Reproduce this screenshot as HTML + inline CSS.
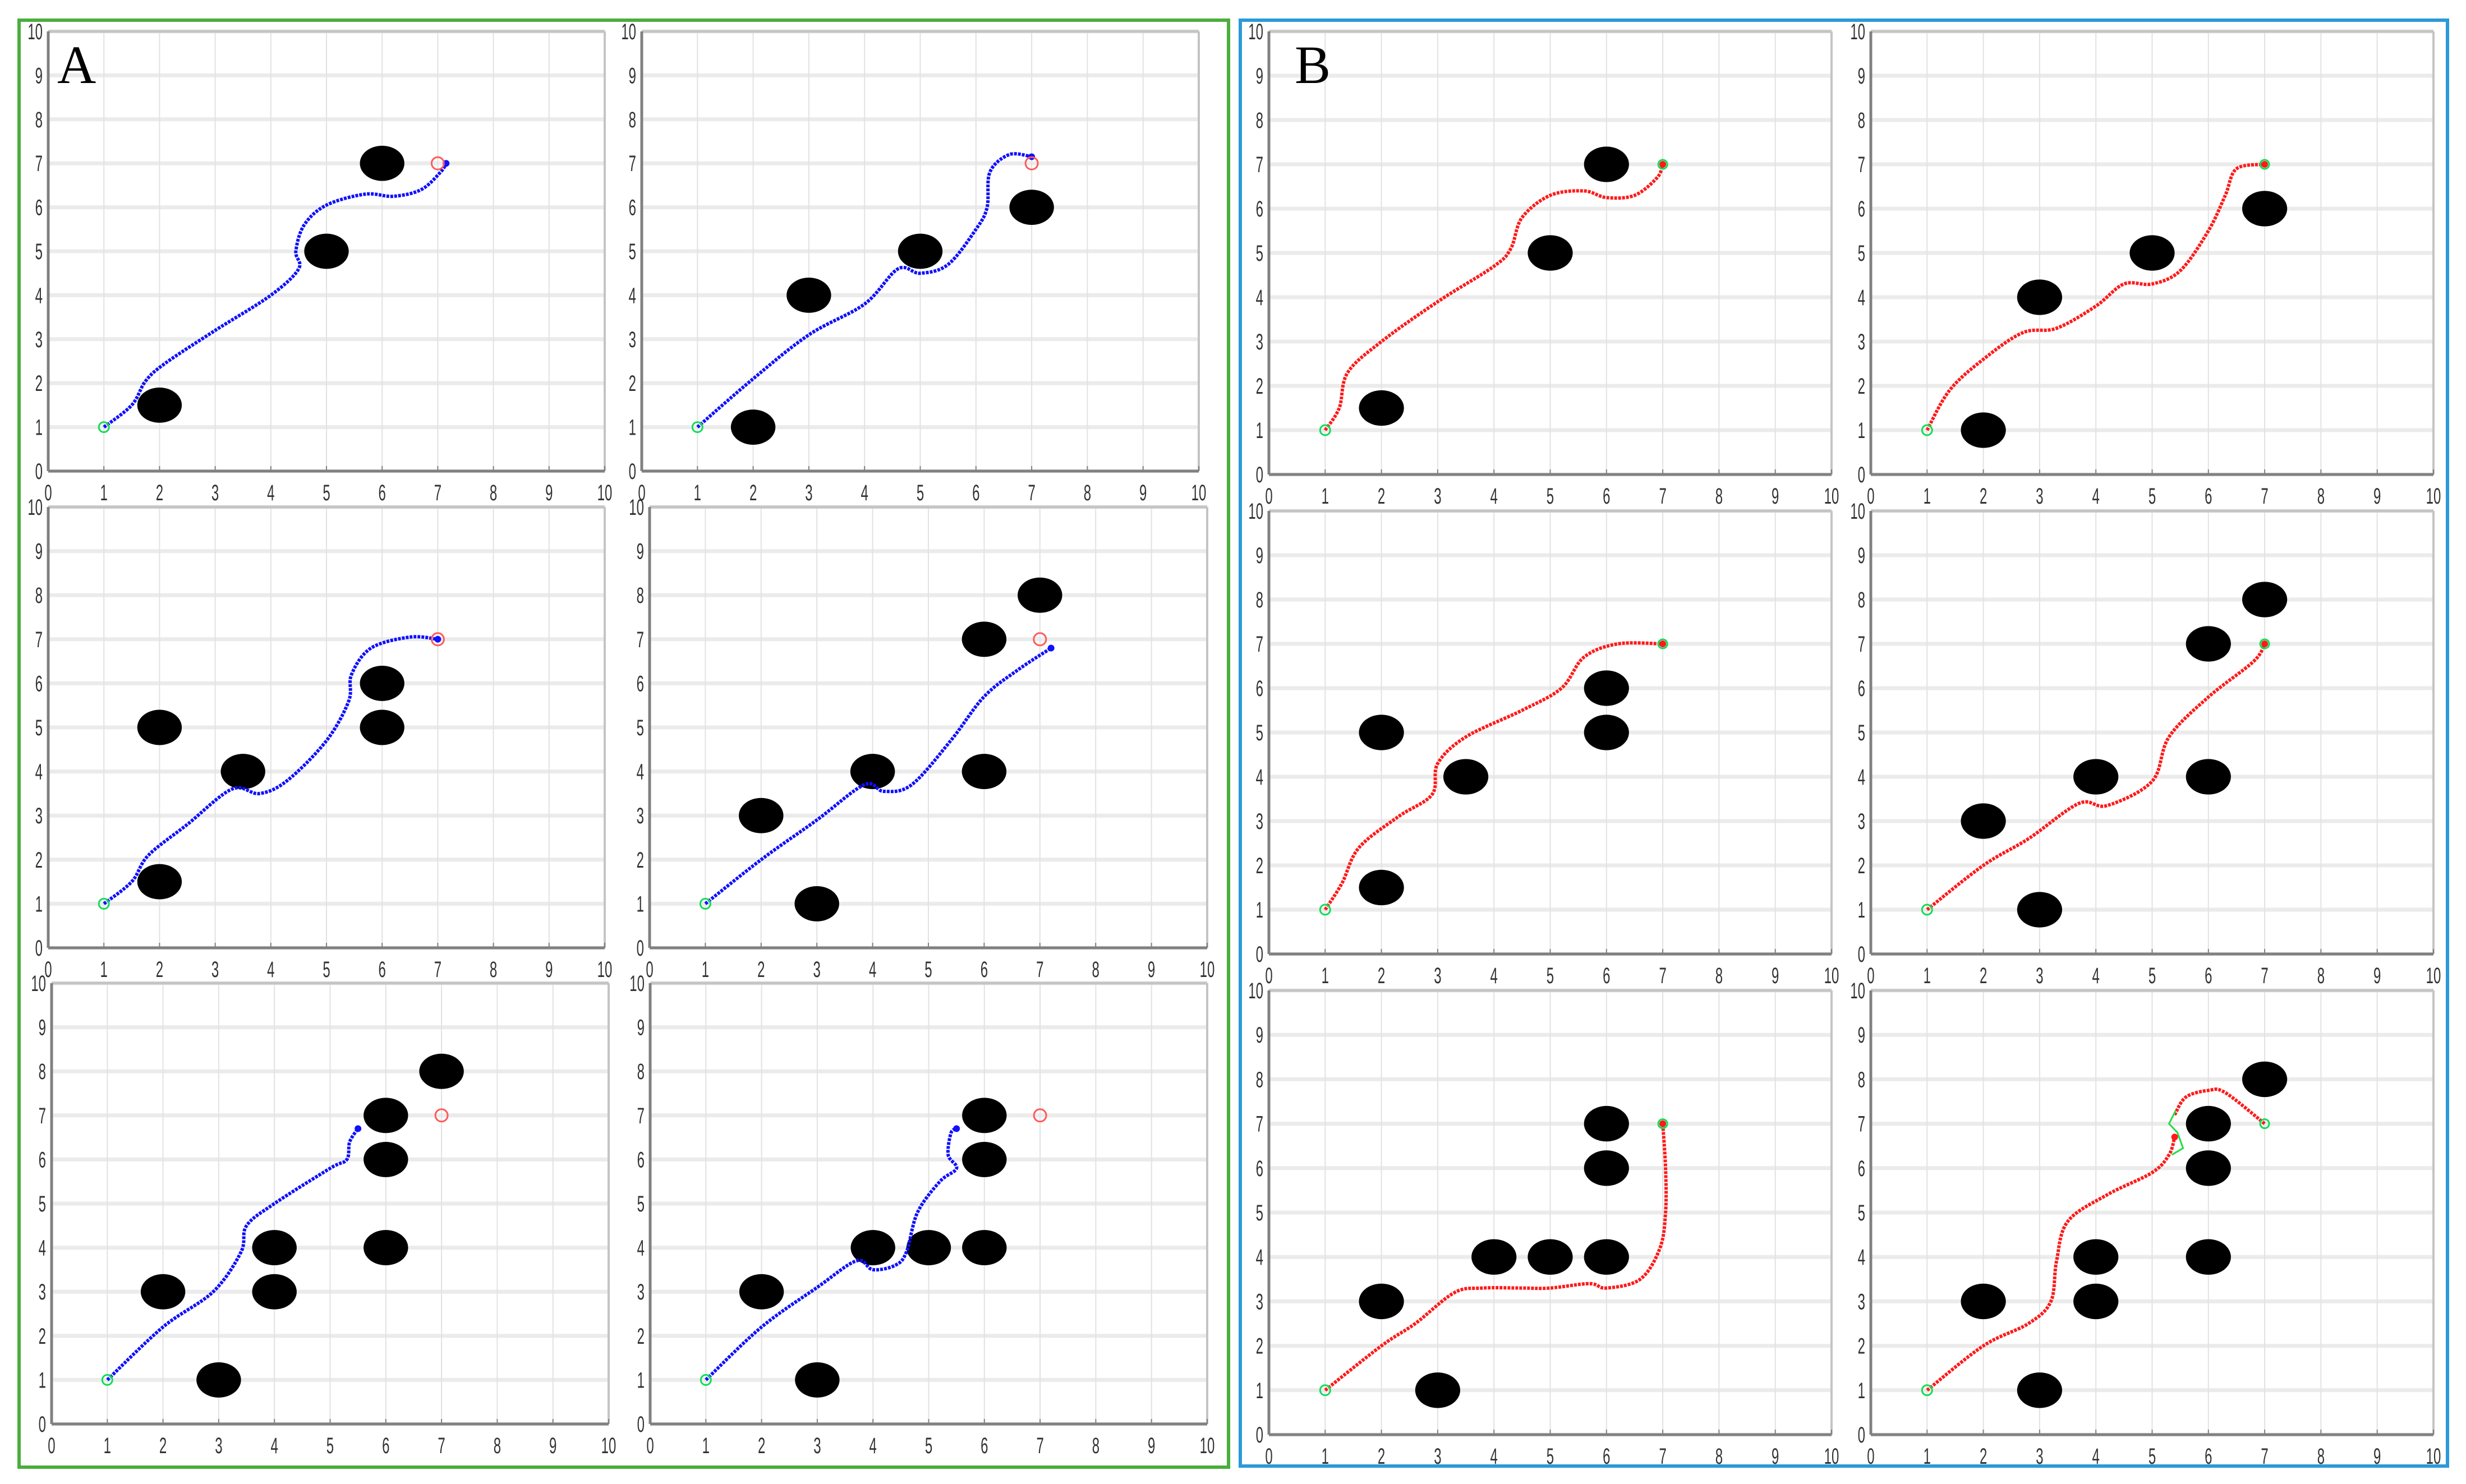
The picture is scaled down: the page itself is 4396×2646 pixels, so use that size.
<!DOCTYPE html>
<html><head><meta charset="utf-8"><style>
html,body{margin:0;padding:0;background:#fff}
svg{display:block}
text{font-family:"Liberation Sans",Arial,sans-serif}
</style></head><body>
<svg id="fig" width="4396" height="2646" viewBox="0 0 4396 2646" xmlns="http://www.w3.org/2000/svg">
<rect x="0" y="0" width="4396" height="2646" fill="#fff"/>
<rect x="34" y="36" width="2156" height="2580" fill="none" stroke="#4aae3c" stroke-width="6"/>
<rect x="2211" y="36" width="2152" height="2578" fill="none" stroke="#2a9ad8" stroke-width="6"/>
<g id="panels"></g>
<text x="102" y="148" font-size="96" fill="#000" style="font-family:'Liberation Serif',serif">A</text>
<text x="2308" y="148" font-size="96" fill="#000" style="font-family:'Liberation Serif',serif">B</text>
</svg>
<script>
// ---- data ----
const xTicks = [0,1,2,3,4,5,6,7,8,9,10];
const yTicks = [0,1,2,3,4,5,6,7,8,9,10];
const obsR = 0.4;

const a1ObsX=[2,5,6], a1ObsY=[1.5,5,7];
const a1PathX=[1,1.5,1.75,2.1,3,4,4.5,4.45,4.6,5.0,5.7,6.2,6.7,7.05,7.15];
const a1PathY=[1,1.5,2.05,2.45,3.2,4.0,4.6,5.0,5.6,6.05,6.3,6.25,6.4,6.8,7.0];

const a2ObsX=[2,3,5,7], a2ObsY=[1,4,5,6];
const a2PathX=[1,2,3,4,4.6,5.0,5.5,6.0,6.2,6.25,6.6,7.0];
const a2PathY=[1,2.1,3.1,3.8,4.6,4.5,4.7,5.5,6.0,6.8,7.2,7.15];

const a3ObsX=[2,2,3.5,6,6], a3ObsY=[1.5,5,4,6,5];
const a3PathX=[1,1.5,1.8,2.5,3.3,3.8,4.3,5.0,5.4,5.45,5.8,6.5,7.0];
const a3PathY=[1,1.5,2.1,2.8,3.6,3.5,3.8,4.7,5.6,6.2,6.8,7.05,7.0];

const a4ObsX=[2,3,4,6,6,7], a4ObsY=[3,1,4,4,7,8];
const a4PathX=[1,2,3,3.85,4.2,4.7,5.4,6.0,6.6,7.2];
const a4PathY=[1,2,2.9,3.7,3.55,3.7,4.7,5.7,6.3,6.8];

const a5ObsX=[2,3,4,4,6,6,6,7], a5ObsY=[3,1,4,3,4,6,7,8];
const a5PathX=[1,2,2.9,3.4,3.5,4.0,5.0,5.3,5.35,5.5];
const a5PathY=[1,2.2,3.0,3.9,4.5,5.0,5.8,6.0,6.4,6.7];

const a6ObsX=[2,3,4,5,6,6,6], a6ObsY=[3,1,4,4,4,6,7];
const a6PathX=[1,2,3,3.7,4.0,4.4,4.6,4.8,5.2,5.5,5.35,5.4,5.5];
const a6PathY=[1,2.2,3.1,3.7,3.5,3.6,3.9,4.8,5.5,5.8,6.1,6.6,6.7];

const b1ObsX=[2,5,6], b1ObsY=[1.5,5,7];
const b1PathX=[1,1.25,1.4,2,3,4,4.3,4.5,5.0,5.6,6.0,6.5,6.9,7.0];
const b1PathY=[1,1.5,2.3,3.0,3.9,4.7,5.1,5.8,6.3,6.4,6.25,6.3,6.7,7.0];

const b2ObsX=[2,3,5,7], b2ObsY=[1,4,5,6];
const b2PathX=[1,1.4,2,2.7,3.3,4,4.5,5,5.5,6,6.3,6.5,7];
const b2PathY=[1,1.9,2.6,3.2,3.3,3.8,4.3,4.3,4.6,5.5,6.3,6.9,7];

const b3ObsX=[2,2,3.5,6,6], b3ObsY=[1.5,5,4,6,5];
const b3PathX=[1,1.3,1.6,2.3,2.9,3.0,3.5,4.5,5.2,5.6,6.2,7.0];
const b3PathY=[1,1.6,2.4,3.1,3.6,4.3,4.9,5.5,6.0,6.7,7.0,7.0];

const b4ObsX=[2,3,4,6,6,7], b4ObsY=[3,1,4,4,7,8];
const b4PathX=[1,2,2.8,3.7,4.2,5.0,5.3,6.0,6.8,7.0];
const b4PathY=[1,2.0,2.6,3.4,3.35,3.9,4.9,5.8,6.6,7.0];

const b5ObsX=[2,3,4,5,6,6,6], b5ObsY=[3,1,4,4,4,6,7];
const b5PathX=[1,2,2.6,3.3,3.8,4.5,5.0,5.7,6.0,6.6,6.95,7.05,7.05,7.0];
const b5PathY=[1,2.0,2.5,3.2,3.3,3.3,3.3,3.4,3.3,3.5,4.2,5.0,6.0,7.0];

const b6ObsX=[2,3,4,4,6,6,6,7], b6ObsY=[3,1,3,4,4,6,7,8];
const b6PathX=[1,2,2.8,3.2,3.3,3.5,4.2,5.0,5.3,5.4];
const b6PathY=[1,2.0,2.5,3.0,3.9,4.8,5.4,5.9,6.3,6.7];
const b6ReturnX=[5.4,5.6,6.0,6.3,7.0];
const b6ReturnY=[7.2,7.6,7.75,7.7,7.0];
const b6DetourX=[5.35,5.55,5.45,5.3,5.42];
const b6DetourY=[6.3,6.45,6.8,7.0,7.3];

// ---- layout (positions only) ----
const panels = [
 {name:'a1',x0:86,x1:1078,y0:56,y1:840,obsX:a1ObsX,obsY:a1ObsY,px:a1PathX,py:a1PathY,color:'#1010ff',goal:'red'},
 {name:'a2',x0:1144,x1:2137,y0:56,y1:840,obsX:a2ObsX,obsY:a2ObsY,px:a2PathX,py:a2PathY,color:'#1010ff',goal:'red'},
 {name:'a3',x0:86,x1:1078,y0:904,y1:1690,obsX:a3ObsX,obsY:a3ObsY,px:a3PathX,py:a3PathY,color:'#1010ff',goal:'red'},
 {name:'a4',x0:1158,x1:2152,y0:904,y1:1690,obsX:a4ObsX,obsY:a4ObsY,px:a4PathX,py:a4PathY,color:'#1010ff',goal:'red'},
 {name:'a5',x0:92,x1:1085,y0:1753,y1:2539,obsX:a5ObsX,obsY:a5ObsY,px:a5PathX,py:a5PathY,color:'#1010ff',goal:'red'},
 {name:'a6',x0:1159,x1:2152,y0:1753,y1:2539,obsX:a6ObsX,obsY:a6ObsY,px:a6PathX,py:a6PathY,color:'#1010ff',goal:'red'},
 {name:'b1',x0:2262,x1:3265,y0:56,y1:846,obsX:b1ObsX,obsY:b1ObsY,px:b1PathX,py:b1PathY,color:'#ff1a1a',goal:'green'},
 {name:'b2',x0:3335,x1:4338,y0:56,y1:846,obsX:b2ObsX,obsY:b2ObsY,px:b2PathX,py:b2PathY,color:'#ff1a1a',goal:'green'},
 {name:'b3',x0:2262,x1:3265,y0:911,y1:1701,obsX:b3ObsX,obsY:b3ObsY,px:b3PathX,py:b3PathY,color:'#ff1a1a',goal:'green'},
 {name:'b4',x0:3335,x1:4338,y0:911,y1:1701,obsX:b4ObsX,obsY:b4ObsY,px:b4PathX,py:b4PathY,color:'#ff1a1a',goal:'green'},
 {name:'b5',x0:2262,x1:3265,y0:1766,y1:2558,obsX:b5ObsX,obsY:b5ObsY,px:b5PathX,py:b5PathY,color:'#ff1a1a',goal:'green'},
 {name:'b6',x0:3335,x1:4338,y0:1766,y1:2558,obsX:b6ObsX,obsY:b6ObsY,px:b6PathX,py:b6PathY,color:'#ff1a1a',goal:'green'}
];

const NS='http://www.w3.org/2000/svg';
function mk(tag, attrs, parent){
  const e=document.createElementNS(NS,tag);
  for(const k in attrs) e.setAttribute(k,attrs[k]);
  parent.appendChild(e); return e;
}
function smoothPath(xs,ys,sx,sy){
  const P=xs.map((x,i)=>[sx(x),sy(ys[i])]);
  let d='M'+P[0][0].toFixed(1)+' '+P[0][1].toFixed(1);
  for(let i=0;i<P.length-1;i++){
    const p0=P[Math.max(0,i-1)],p1=P[i],p2=P[i+1],p3=P[Math.min(P.length-1,i+2)];
    const c1=[p1[0]+(p2[0]-p0[0])/6,p1[1]+(p2[1]-p0[1])/6];
    const c2=[p2[0]-(p3[0]-p1[0])/6,p2[1]-(p3[1]-p1[1])/6];
    d+=' C'+c1[0].toFixed(1)+' '+c1[1].toFixed(1)+' '+c2[0].toFixed(1)+' '+c2[1].toFixed(1)+' '+p2[0].toFixed(1)+' '+p2[1].toFixed(1);
  }
  return d;
}
const root=document.getElementById('panels');
const SC=0.6;
panels.forEach(p=>{
  const g=mk('g',{},root);
  
  
  const sx=v=>p.x0+(p.x1-p.x0)*v/10;
  const sy=v=>p.y1-(p.y1-p.y0)*v/10;
  yTicks.forEach(t=>{
    const l=mk('line',{x1:p.x0,x2:p.x1,y1:sy(t),y2:sy(t),stroke:'#ebebeb','stroke-width':7},g);
    
    
  });
  xTicks.forEach(t=>{
    const l=mk('line',{x1:sx(t),x2:sx(t),y1:p.y0,y2:p.y1,stroke:'#e2e2e2','stroke-width':2},g);
    
    
  });
  mk('line',{x1:p.x0,x2:p.x1,y1:p.y0,y2:p.y0,stroke:'#c4c4c4','stroke-width':5},g);
  mk('line',{x1:p.x1,x2:p.x1,y1:p.y0,y2:p.y1,stroke:'#c4c4c4','stroke-width':4},g);
  const ax=mk('line',{x1:p.x0,x2:p.x1,y1:p.y1,y2:p.y1,stroke:'#808080','stroke-width':5},g);
  
  
  const ay=mk('line',{x1:p.x0,x2:p.x0,y1:p.y0,y2:p.y1,stroke:'#808080','stroke-width':5},g);
  
  
  xTicks.forEach(t=>{
    const tx=mk('text',{x:(sx(t)/SC).toFixed(1),y:p.y1+52,'font-size':40,fill:'#333','text-anchor':'middle',transform:'scale('+SC+',1)'},g);
    tx.textContent=t;
    
    
    mk('line',{x1:sx(t),x2:sx(t),y1:p.y1,y2:p.y1-9,stroke:'#808080','stroke-width':2},g);
  });
  yTicks.forEach(t=>{
    const tx=mk('text',{x:((p.x0-10)/SC).toFixed(1),y:sy(t)+14,'font-size':40,fill:'#333','text-anchor':'end',transform:'scale('+SC+',1)'},g);
    tx.textContent=t;
    
    
  });
  p.obsX.forEach((ox,i)=>{
    const e=mk('ellipse',{cx:sx(ox),cy:sy(p.obsY[i]),rx:(p.x1-p.x0)*obsR/10,ry:(p.y1-p.y0)*obsR/10,fill:'#000'},g);
    
    
  });
  const pa=mk('path',{d:smoothPath(p.px,p.py,sx,sy),fill:'none',stroke:p.color,'stroke-width':6,'stroke-dasharray':'5 2'},g);
  
  
  if(p.name==='b6'){
    const r=mk('path',{d:smoothPath(b6ReturnX,b6ReturnY,sx,sy),fill:'none',stroke:p.color,'stroke-width':6,'stroke-dasharray':'5 2'},g);
    
    
    const dd=mk('polyline',{points:b6DetourX.map((x,i)=>sx(x)+','+sy(b6DetourY[i])).join(' '),fill:'none',stroke:'#22dd44','stroke-width':3},g);
    
    
  }
  const n=p.px.length-1;
  mk('circle',{cx:sx(p.px[n]),cy:sy(p.py[n]),r:6,fill:p.color},g);
  const s=mk('circle',{cx:sx(1),cy:sy(1),r:9,fill:'none',stroke:'#11dd55','stroke-width':3},g);
  
  
  const gm=mk('circle',{cx:sx(7),cy:sy(7),r:p.goal==='red'?11:8,fill:'none',stroke:p.goal==='red'?'#ff5a5a':'#11dd55','stroke-width':3},g);
  
  
});
</script>
</body></html>
